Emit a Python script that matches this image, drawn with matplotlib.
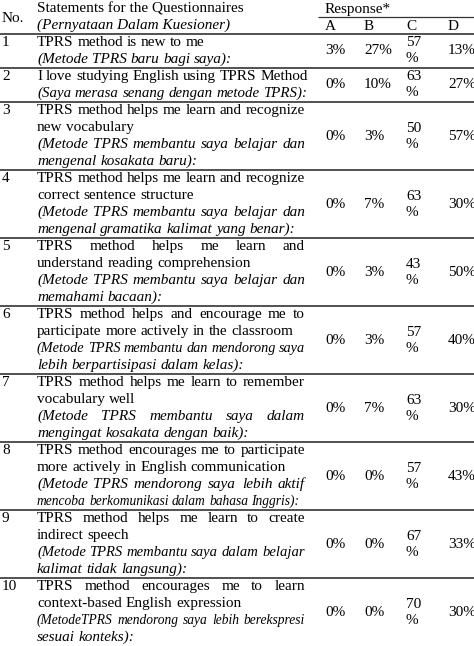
import matplotlib
matplotlib.use("Agg")
import matplotlib.pyplot as plt

FONT = "Liberation Serif"
FS = 11

rows_en = [
    ["TPRS method is new to me"],
    ["I love studying English using TPRS Method"],
    ["TPRS method helps me learn and recognize", "new vocabulary"],
    ["TPRS method helps me learn and recognize", "correct sentence structure"],
    ["TPRS method helps me learn and", "understand reading comprehension"],
    ["TPRS method helps and encourage me to", "participate more actively in the classroom"],
    ["TPRS method helps me learn to remember", "vocabulary well"],
    ["TPRS method encourages me to participate", "more actively in English communication"],
    ["TPRS method helps me learn to create", "indirect speech"],
    ["TPRS method encourages me to learn", "context-based English expression"],
]
rows_id = [
    ["(Metode TPRS baru bagi saya):"],
    ["(Saya merasa senang dengan metode TPRS):"],
    ["(Metode TPRS membantu saya belajar dan", "mengenal kosakata baru):"],
    ["(Metode TPRS membantu saya belajar dan", "mengenal gramatika kalimat yang benar):"],
    ["(Metode TPRS membantu saya belajar dan", "memahami bacaan):"],
    ["(Metode TPRS membantu dan mendorong saya", "lebih berpartisipasi dalam kelas):"],
    ["(Metode TPRS membantu saya dalam", "mengingat kosakata dengan baik):"],
    ["(Metode TPRS mendorong saya lebih aktif", "mencoba berkomunikasi dalam bahasa Inggris):"],
    ["(Metode TPRS membantu saya dalam belajar", "kalimat tidak langsung):"],
    ["(MetodeTPRS mendorong saya lebih berekspresi", "sesuai konteks):"],
]
resp_a = [3, 0, 0, 0, 0, 0, 0, 0, 0, 0]
resp_b = [27, 10, 3, 7, 3, 3, 7, 0, 0, 0]
resp_c = [57, 63, 50, 63, 43, 57, 63, 57, 67, 70]
resp_d = [13, 27, 57, 30, 50, 40, 30, 43, 33, 30]

W, H = 474, 646
fig = plt.figure(figsize=(W / 100, H / 100), dpi=100)
ax = fig.add_axes([0, 0, 1, 1])
ax.set_xlim(0, W)
ax.set_ylim(H, 0)
ax.axis("off")
renderer = fig.canvas.get_renderer()

X_NO, X_TXT, X_END = 2, 37, 305
COL_X = {"A": 325, "B": 364, "C": 406, "D": 448}
LH = 17


def text_width(s, style, fs):
    t = ax.text(0, 0, s, fontsize=fs, family=FONT, style=style)
    w = t.get_window_extent(renderer).width
    t.remove()
    return w


def put_line(s, y, style, justify):
    words = s.split()
    fs = FS
    # shrink lines that would not fit the statement column
    while fs > 8:
        widths = [text_width(w, style, fs) for w in words]
        space = text_width("a b", style, fs) - text_width("ab", style, fs)
        if sum(widths) + space * 0.8 * (len(words) - 1) <= X_END - X_TXT:
            break
        fs -= 0.25
    if justify and len(words) > 1:
        gap = (X_END - X_TXT - sum(widths)) / (len(words) - 1)
    else:
        gap = space
    x = X_TXT
    for w, wd in zip(words, widths):
        ax.text(x, y, w, fontsize=fs, family=FONT, style=style, va="center")
        x += wd + gap


def hline(y, x0=0, x1=W, lw=1.2):
    ax.plot([x0, x1], [y, y], color="#333333", lw=lw, solid_capstyle="butt")


# header
ax.text(X_NO, 18, "No.", fontsize=FS, family=FONT, va="center")
ax.text(X_TXT, 9, "Statements for the Questionnaires", fontsize=FS, family=FONT, va="center")
ax.text(X_TXT, 25, "(Pernyataan Dalam Kuesioner)", fontsize=FS, family=FONT, style="italic", va="center")
ax.text(COL_X["A"], 9, "Response*", fontsize=FS, family=FONT, va="center")
hline(16.5, 318, W, lw=0.9)
for k, x in COL_X.items():
    ax.text(x, 27, k, fontsize=FS, family=FONT, va="center")
y0 = 34
hline(y0)

for i in range(len(rows_en)):
    lines = [(l, "normal", j < len(rows_en[i]) - 1) for j, l in enumerate(rows_en[i])]
    lines += [(l, "italic", j < len(rows_id[i]) - 1) for j, l in enumerate(rows_id[i])]
    ax.text(X_NO, y0 + LH * 0.5, str(i + 1), fontsize=FS, family=FONT, va="center")
    for j, (s, st, just) in enumerate(lines):
        put_line(s, y0 + LH * (j + 0.5), st, just)
    yc = y0 + LH * len(lines) / 2
    ax.text(COL_X["A"], yc, f"{resp_a[i]}%", fontsize=FS, family=FONT, va="center")
    ax.text(COL_X["B"], yc, f"{resp_b[i]}%", fontsize=FS, family=FONT, va="center")
    ax.text(COL_X["C"], yc - 8, f"{resp_c[i]}", fontsize=FS, family=FONT, va="center")
    ax.text(COL_X["C"], yc + 8, "%", fontsize=FS, family=FONT, va="center")
    ax.text(COL_X["D"], yc, f"{resp_d[i]}%", fontsize=FS, family=FONT, va="center")
    y0 += LH * len(lines)
    if i < len(rows_en) - 1:
        hline(y0)

fig.savefig("out.png", dpi=100)
